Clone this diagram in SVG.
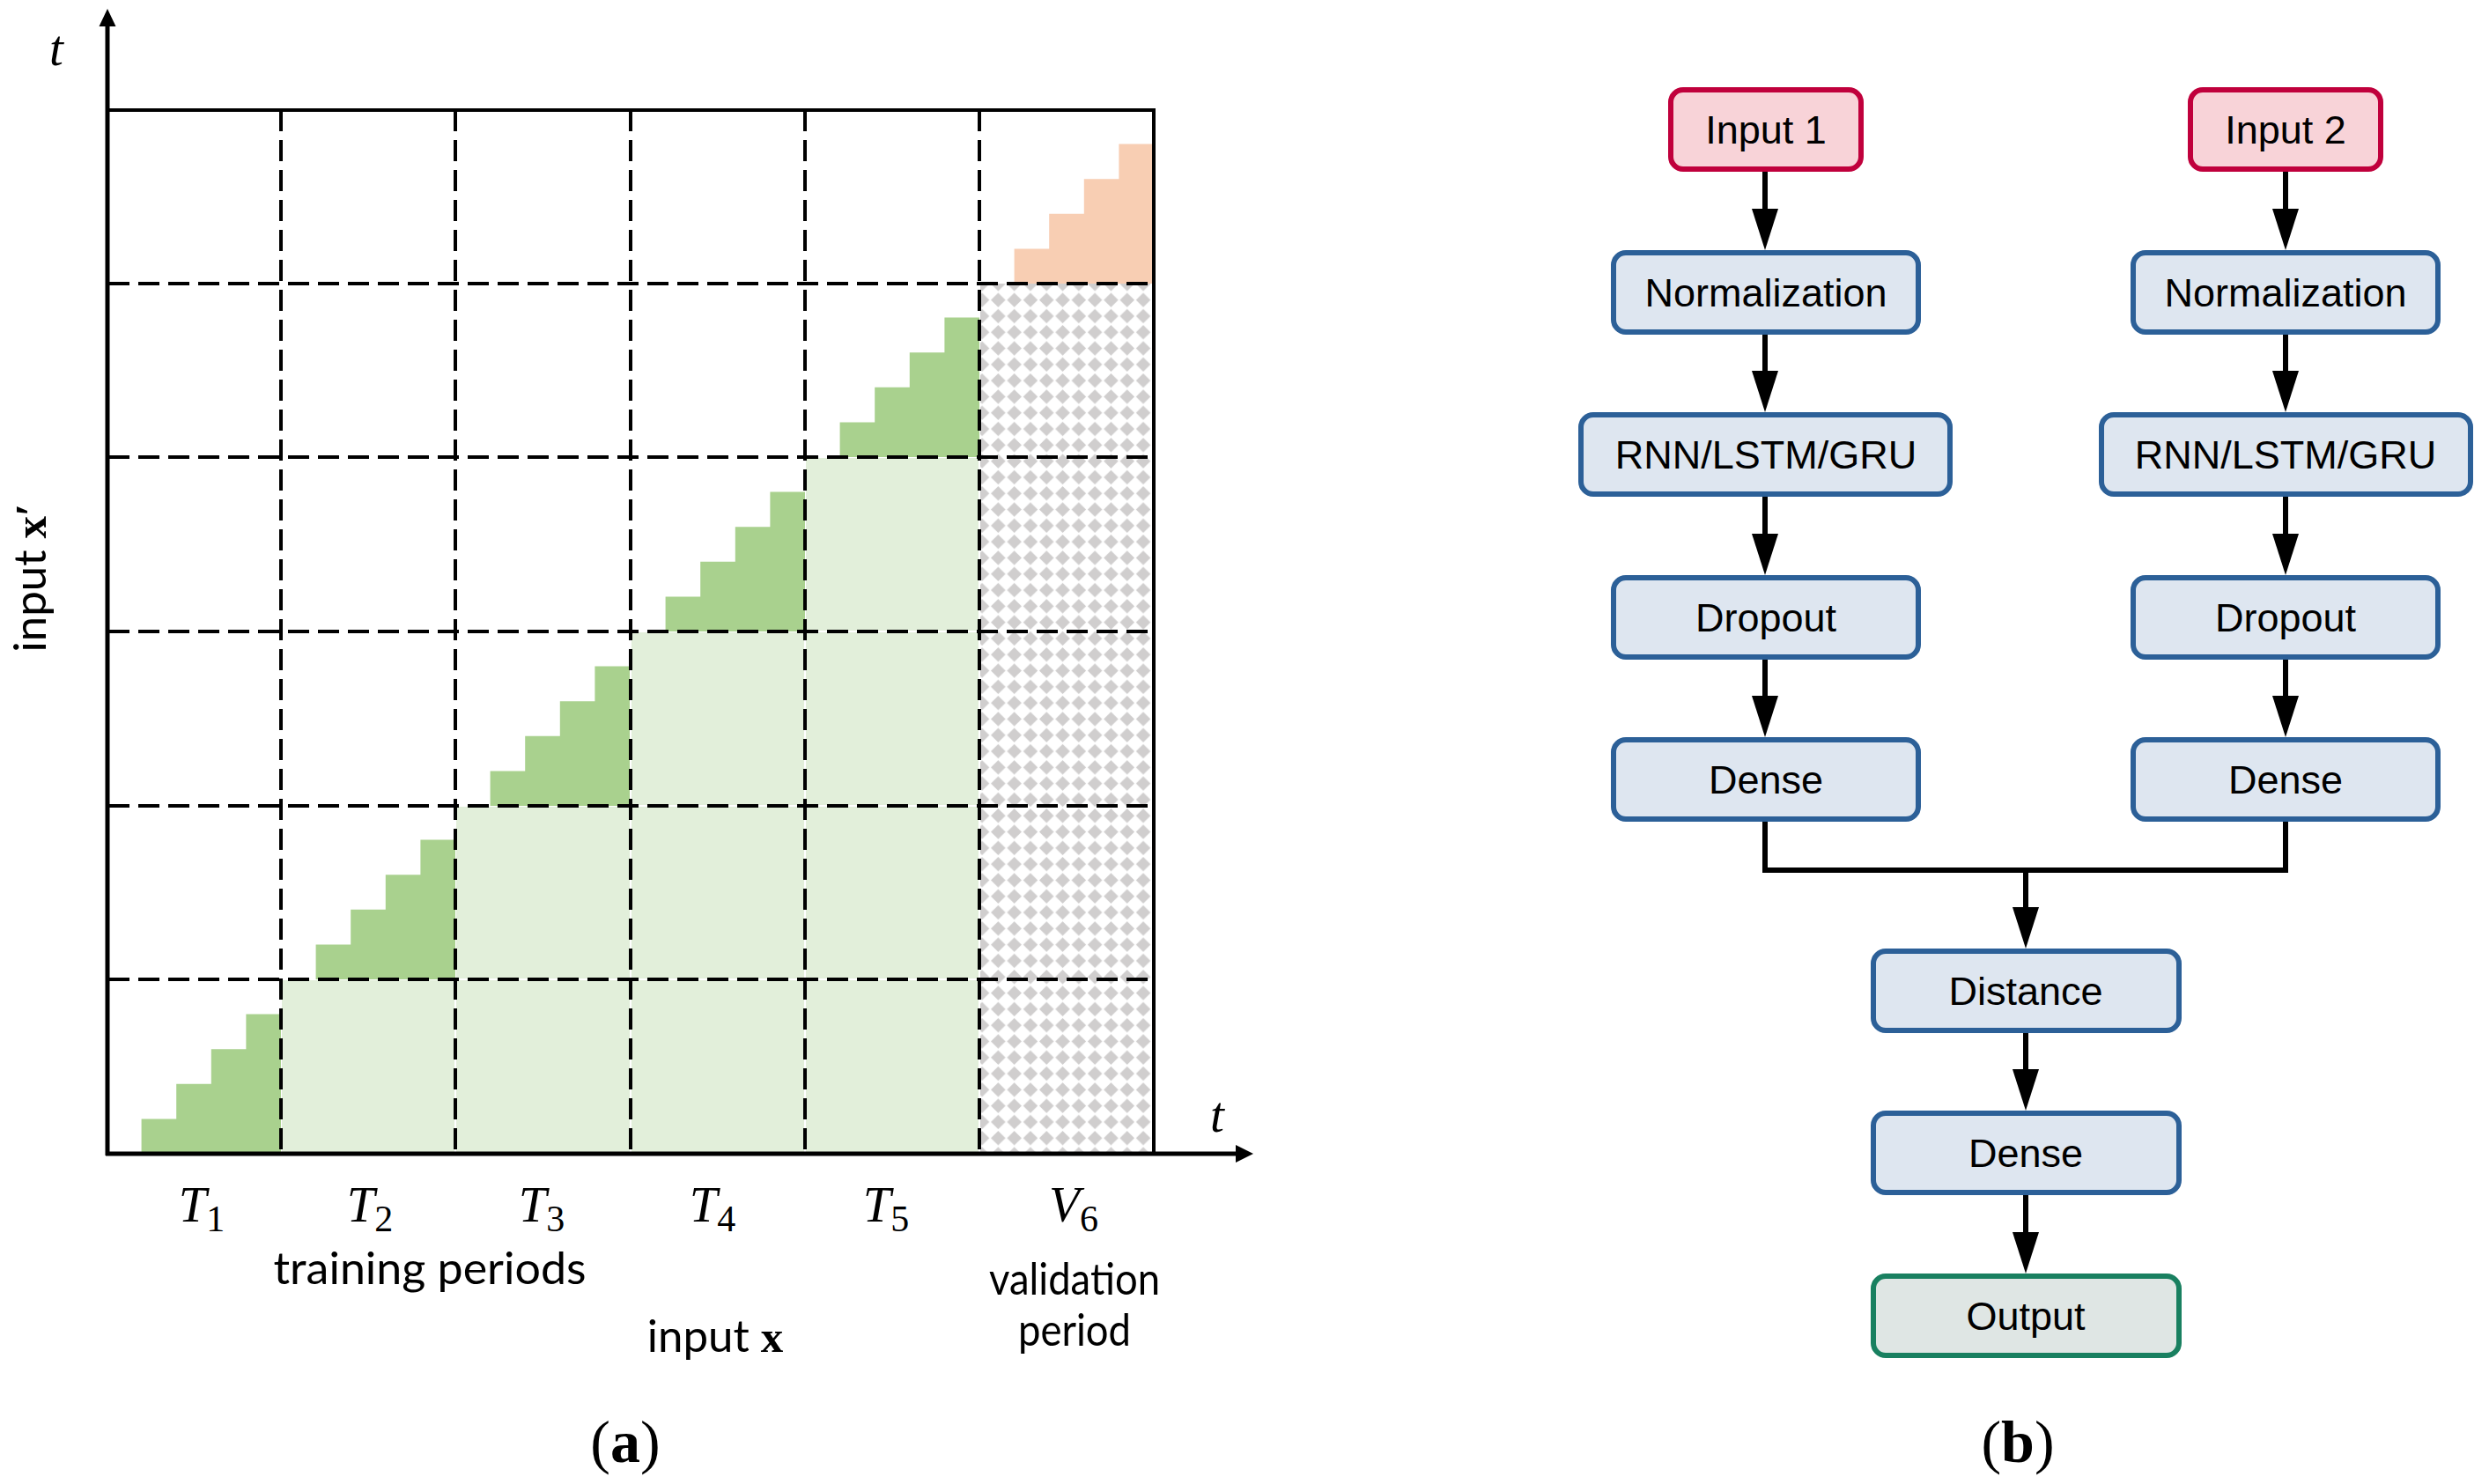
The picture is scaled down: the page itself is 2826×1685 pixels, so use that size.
<svg xmlns="http://www.w3.org/2000/svg" xmlns:xlink="http://www.w3.org/1999/xlink" width="2826" height="1685" viewBox="0 0 2826 1685">
<style>
.dash{stroke:#000;stroke-width:4;stroke-dasharray:24 10;fill:none}
.solid{stroke:#000;fill:none}
.lg{fill:#E2EFDA}
.math{font-family:"Liberation Serif","DejaVu Serif",serif;font-style:italic;font-size:57px}
.sub{font-family:"Liberation Serif","DejaVu Serif",serif;font-style:normal;font-size:42px}
.lbl{font-family:Lato,"Noto Sans",sans-serif;font-size:51px}
.bx{font-family:"Liberation Sans",Arial,sans-serif;font-size:45px;text-anchor:middle;fill:#000}
.blue{fill:#DEE6F0;stroke:#2C6098;stroke-width:6}
.red{fill:#F8D3D8;stroke:#C0003C;stroke-width:6}
.green{fill:#DFE6E4;stroke:#198060;stroke-width:6}
.conn{stroke:#000;stroke-width:6;fill:none}
</style>
<defs>
<pattern id="dots" patternUnits="userSpaceOnUse" x="1124.2" y="697.5" width="18.3" height="18.3">
<rect width="18.3" height="18.3" fill="#fff"/>
<path d="M9.15,0.9 L17.4,9.15 L9.15,17.4 L0.9,9.15 Z" fill="#D0CECE"/>
</pattern>
<path id="stair" d="M39.6,0 V-39.6 H79.2 V-79.2 H118.8 V-118.8 H158.4 V-158.4 H198 V0 Z"/>
<marker id="ah" markerUnits="userSpaceOnUse" markerWidth="48" markerHeight="30" refX="1" refY="15" orient="auto" viewBox="0 0 48 30">
<path d="M0,0 L47,15 L0,30 Z" fill="#000"/>
</marker>
</defs>
<rect width="2826" height="1685" fill="#fff"/>

<g id="panel-a">
<g id="fills">
<rect class="lg" x="320" y="1113" width="196" height="198"/>
<rect class="lg" x="518" y="1113" width="197" height="198"/>
<rect class="lg" x="518" y="916" width="197" height="195"/>
<rect class="lg" x="717" y="1113" width="196" height="198"/>
<rect class="lg" x="717" y="916" width="196" height="195"/>
<rect class="lg" x="717" y="718" width="196" height="196"/>
<rect class="lg" x="915" y="1113" width="196" height="198"/>
<rect class="lg" x="915" y="916" width="196" height="195"/>
<rect class="lg" x="915" y="718" width="196" height="196"/>
<rect class="lg" x="915" y="520" width="196" height="196"/>
<use xlink:href="#stair" x="121" y="1310" fill="#A9D18E"/>
<use xlink:href="#stair" x="319" y="1112" fill="#A9D18E"/>
<use xlink:href="#stair" x="517" y="915" fill="#A9D18E"/>
<use xlink:href="#stair" x="716" y="717" fill="#A9D18E"/>
<use xlink:href="#stair" x="914" y="519" fill="#A9D18E"/>
<use xlink:href="#stair" x="1112" y="322" fill="#F8CEB3"/>
<rect x="1113" y="322" width="197" height="988" fill="url(#dots)"/>
</g>
<g id="grid">
<path class="dash" d="M319,125 V1310 M517,125 V1310 M716,125 V1310 M914,125 V1310 M1112,125 V1310"/>
<path class="dash" d="M123,322 H1310 M123,519 H1310 M123,717 H1310 M123,915 H1310 M123,1112 H1310"/>
<path class="solid" stroke-width="4" d="M122,125 H1310 V1310"/>
</g>
<g id="axes">
<path class="solid" stroke-width="5" d="M122,1312 V28"/>
<path d="M122,10 L112.5,30 L131.5,30 Z" fill="#000"/>
<path class="solid" stroke-width="5" d="M120,1310 H1405"/>
<path d="M1423,1310 L1403,1300 L1403,1320 Z" fill="#000"/>
</g>
<g id="labels-a">
<text class="math" x="64" y="74" text-anchor="middle">t</text>
<text class="math" x="1382" y="1285" text-anchor="middle">t</text>
<text class="lbl" transform="translate(52,656) rotate(-90)" text-anchor="middle">input <tspan font-family="'Liberation Serif',serif" font-weight="bold">x′</tspan></text>
<text class="math" x="229" y="1387" text-anchor="middle">T<tspan class="sub" dy="11">1</tspan></text>
<text class="math" x="420" y="1387" text-anchor="middle">T<tspan class="sub" dy="11">2</tspan></text>
<text class="math" x="615" y="1387" text-anchor="middle">T<tspan class="sub" dy="11">3</tspan></text>
<text class="math" x="809" y="1387" text-anchor="middle">T<tspan class="sub" dy="11">4</tspan></text>
<text class="math" x="1006" y="1387" text-anchor="middle">T<tspan class="sub" dy="11">5</tspan></text>
<text class="math" x="1219" y="1387" text-anchor="middle">V<tspan class="sub" dy="11">6</tspan></text>
<text class="lbl" x="488" y="1458" text-anchor="middle" textLength="355" lengthAdjust="spacingAndGlyphs">training periods</text>
<text class="lbl" x="1220" y="1470" text-anchor="middle" textLength="194" lengthAdjust="spacingAndGlyphs">validation</text>
<text class="lbl" x="1220" y="1528" text-anchor="middle" textLength="128" lengthAdjust="spacingAndGlyphs">period</text>
<text class="lbl" x="812" y="1535" text-anchor="middle">input <tspan font-family="'Liberation Serif',serif" font-weight="bold">x</tspan></text>
<text x="710" y="1660" text-anchor="middle" font-family="'Liberation Serif',serif" font-size="68">(<tspan font-weight="bold">a</tspan>)</text>
</g>
</g>

<g id="connectors">
<path class="conn" marker-end="url(#ah)" d="M2004,195 V238"/>
<path class="conn" marker-end="url(#ah)" d="M2004,380 V422"/>
<path class="conn" marker-end="url(#ah)" d="M2004,564 V607"/>
<path class="conn" marker-end="url(#ah)" d="M2004,749 V791"/>
<path class="conn" marker-end="url(#ah)" d="M2595,195 V238"/>
<path class="conn" marker-end="url(#ah)" d="M2595,380 V422"/>
<path class="conn" marker-end="url(#ah)" d="M2595,564 V607"/>
<path class="conn" marker-end="url(#ah)" d="M2595,749 V791"/>
<path class="conn" d="M2004,933 V988 H2595 V933"/>
<path class="conn" marker-end="url(#ah)" d="M2300,988 V1031"/>
<path class="conn" marker-end="url(#ah)" d="M2300,1173 V1215"/>
<path class="conn" marker-end="url(#ah)" d="M2300,1357 V1400"/>
</g>

<g id="input1"><rect class="red" x="1897" y="102" width="216" height="90" rx="14"/><text class="bx" x="2005" y="163">Input 1</text></g>
<g id="input2"><rect class="red" x="2487" y="102" width="216" height="90" rx="14"/><text class="bx" x="2595" y="163">Input 2</text></g>
<g id="norm1"><rect class="blue" x="1832" y="287" width="346" height="90" rx="14"/><text class="bx" x="2005" y="348">Normalization</text></g>
<g id="norm2"><rect class="blue" x="2422" y="287" width="346" height="90" rx="14"/><text class="bx" x="2595" y="348">Normalization</text></g>
<g id="rnn1"><rect class="blue" x="1795" y="471" width="419" height="90" rx="14"/><text class="bx" x="2005" y="532">RNN/LSTM/GRU</text></g>
<g id="rnn2"><rect class="blue" x="2386" y="471" width="419" height="90" rx="14"/><text class="bx" x="2595" y="532">RNN/LSTM/GRU</text></g>
<g id="drop1"><rect class="blue" x="1832" y="656" width="346" height="90" rx="14"/><text class="bx" x="2005" y="717">Dropout</text></g>
<g id="drop2"><rect class="blue" x="2422" y="656" width="346" height="90" rx="14"/><text class="bx" x="2595" y="717">Dropout</text></g>
<g id="dense1"><rect class="blue" x="1832" y="840" width="346" height="90" rx="14"/><text class="bx" x="2005" y="901">Dense</text></g>
<g id="dense2"><rect class="blue" x="2422" y="840" width="346" height="90" rx="14"/><text class="bx" x="2595" y="901">Dense</text></g>
<g id="distance"><rect class="blue" x="2127" y="1080" width="347" height="90" rx="14"/><text class="bx" x="2300" y="1141">Distance</text></g>
<g id="dense3"><rect class="blue" x="2127" y="1264" width="347" height="90" rx="14"/><text class="bx" x="2300" y="1325">Dense</text></g>
<g id="output"><rect class="green" x="2127" y="1449" width="347" height="90" rx="14"/><text class="bx" x="2300" y="1510">Output</text></g>

<text x="2291" y="1660" text-anchor="middle" font-family="'Liberation Serif',serif" font-size="68">(<tspan font-weight="bold">b</tspan>)</text>
</svg>
